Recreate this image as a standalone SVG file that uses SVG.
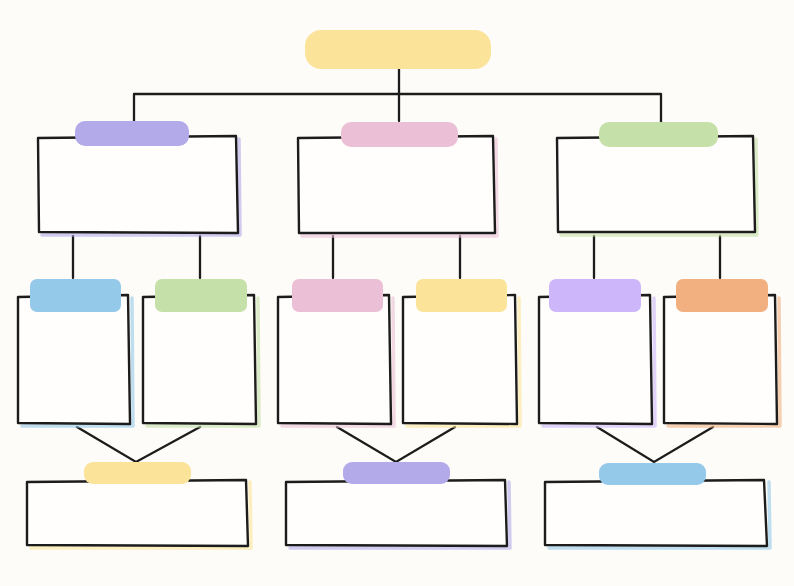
<svg xmlns="http://www.w3.org/2000/svg" width="794" height="586" viewBox="0 0 794 586">
<style>
.box{fill:#fffefc;stroke:#1c1c1c;stroke-width:2.4;stroke-linejoin:round}
.sh{fill:none;stroke-width:3.5;opacity:.6;stroke-linecap:round;stroke-linejoin:round}
.ln{fill:none;stroke:#1c1c1c;stroke-width:2.3;stroke-linecap:round}
.y{fill:#fbe49a}.p{fill:#b3aaea}.k{fill:#ebbfd5}.g{fill:#c5e0a9}.b{fill:#94c9ea}.v{fill:#cdb6fa}.o{fill:#f2b080}
.sy{stroke:#fbe49a}.sp{stroke:#b3aaea}.sk{stroke:#ebbfd5}.sg{stroke:#c5e0a9}.sb{stroke:#94c9ea}.sv{stroke:#cdb6fa}.so{stroke:#f2b080}
</style>
<rect width="794" height="586" fill="#fdfcf8"/>
<g id="connectors">
<path class="ln" d="M399,69 L399,121 M134,94 L661,94 M134,94 L134,121 M661,94 L661,122"/>
<path class="ln" d="M73,236 L73,278 M200,236 L200,278 M333,236 L333,278 M460,236 L460,278 M594,236 L594,278 M720,236 L720,278"/>
<path class="ln" d="M77,427 L136,462 L200,427 M337,427 L396,462 L455,427 M597,427 L654,462 L713,427"/>
</g>
<g id="root">
<rect class="y" x="305" y="30" width="186" height="39" rx="16"/>
</g>
<g id="l1-a">
<path class="sh sp" d="M239,139 L240,235 L42,235"/>
<path class="box" d="M38,138 L236,136 L238,233 L39,232 Z"/>
<rect class="p" x="75" y="121" width="114" height="25" rx="10"/>
</g>
<g id="l1-b">
<path class="sh sk" d="M496,139 L497,236 L302,236"/>
<path class="box" d="M298,138 L493,136 L495,233 L299,233 Z"/>
<rect class="k" x="341" y="122" width="117" height="25" rx="10"/>
</g>
<g id="l1-c">
<path class="sh sg" d="M756,139 L757,235 L561,235"/>
<path class="box" d="M557,138 L753,136 L755,232 L558,232 Z"/>
<rect class="g" x="599" y="122" width="119" height="25" rx="10"/>
</g>
<g id="l2-a1">
<path class="sh sb" d="M132,298 L133,426 L22,426"/>
<path class="box" d="M18,297 L128,295 L130,424 L18,423 Z"/>
<rect class="b" x="30" y="279" width="91" height="33" rx="7"/>
</g>
<g id="l2-a2">
<path class="sh sg" d="M258,298 L259,426 L147,426"/>
<path class="box" d="M143,297 L254,295 L256,424 L143,423 Z"/>
<rect class="g" x="155" y="279" width="92" height="33" rx="7"/>
</g>
<g id="l2-b1">
<path class="sh sk" d="M393,298 L394,426 L282,426"/>
<path class="box" d="M278,297 L389,295 L391,424 L278,423 Z"/>
<rect class="k" x="292" y="279" width="91" height="33" rx="7"/>
</g>
<g id="l2-b2">
<path class="sh sy" d="M519,298 L520,426 L407,426"/>
<path class="box" d="M403,297 L515,295 L517,424 L403,423 Z"/>
<rect class="y" x="416" y="279" width="91" height="33" rx="7"/>
</g>
<g id="l2-c1">
<path class="sh sv" d="M654,298 L655,426 L543,426"/>
<path class="box" d="M539,297 L650,295 L652,424 L539,423 Z"/>
<rect class="v" x="549" y="279" width="92" height="33" rx="7"/>
</g>
<g id="l2-c2">
<path class="sh so" d="M779,298 L780,426 L668,426"/>
<path class="box" d="M664,297 L775,295 L777,424 L664,423 Z"/>
<rect class="o" x="676" y="279" width="92" height="33" rx="7"/>
</g>
<g id="l3-a">
<path class="sh sy" d="M250,482 L251,548 L31,548"/>
<path class="box" d="M27,482 L246,480 L248,546 L27,545 Z"/>
<rect class="y" x="84" y="462" width="107" height="22" rx="9"/>
</g>
<g id="l3-b">
<path class="sh sp" d="M509,482 L510,548 L290,548"/>
<path class="box" d="M286,482 L505,480 L507,546 L286,545 Z"/>
<rect class="p" x="343" y="462" width="107" height="22" rx="9"/>
</g>
<g id="l3-c">
<path class="sh sb" d="M769,482 L770,548 L549,548"/>
<path class="box" d="M545,482 L764,480 L767,546 L545,545 Z"/>
<rect class="b" x="599" y="463" width="107" height="22" rx="9"/>
</g>
</svg>
